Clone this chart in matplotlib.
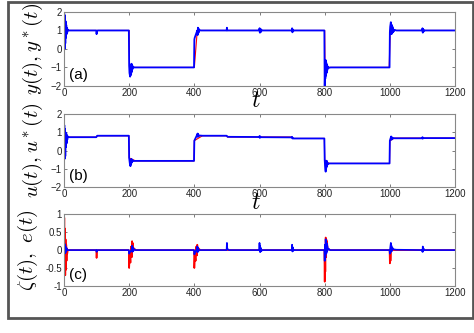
import numpy as np
import matplotlib
matplotlib.use('Agg')
import matplotlib.pyplot as plt
from matplotlib.patches import Rectangle

plt.rcParams['mathtext.fontset'] = 'cm'
plt.rcParams['font.family'] = ['Liberation Sans', 'DejaVu Sans']

# (a) output y(t) (blue) and reference y*(t) (red)
ya_t = [0, 1, 2, 3, 4, 5, 6, 7, 8, 9, 10, 12, 15, 99, 100, 101, 103,
        199, 200, 201, 203, 205, 206, 207, 208, 209, 210, 212, 215, 220,
        399, 400, 401, 405, 409, 410, 411, 412, 413, 414, 416, 420,
        499, 500, 501, 503, 599, 600, 601, 602, 603, 604, 605, 607, 610,
        699, 700, 701, 702, 703, 705, 708,
        799, 800, 801, 802, 803, 804, 805, 806, 807, 808, 810, 813, 818,
        999, 1000, 1001, 1003, 1005, 1006, 1007, 1008, 1009, 1010, 1012, 1015, 1020,
        1099, 1100, 1101, 1102, 1103, 1105, 1108, 1200]
ya_v = [0, 1.9, 0.0, 1.8, 0.3, 1.5, 0.6, 1.3, 0.8, 1.15, 0.9, 1.05, 1.0, 1.0, 0.8, 0.95, 1.0,
        1.0, -0.9, -1.3, -1.5, -1.2, -1.4, -0.8, -1.25, -0.85, -1.1, -0.95, -1.0, -1.0,
        -1.0, 0.5, 0.6, 0.8, 1.0, 0.75, 1.15, 0.85, 1.1, 0.92, 1.02, 1.0,
        1.0, 1.15, 1.0, 1.0, 1.0, 1.12, 0.88, 1.1, 0.9, 1.07, 0.95, 1.02, 1.0,
        1.0, 1.12, 0.9, 1.06, 0.96, 1.0, 1.0,
        1.0, -2.1, -1.3, -1.6, -0.6, -1.45, -0.75, -1.3, -0.85, -1.15, -0.95, -1.02, -1.0,
        -1.0, 0.9, 1.2, 1.45, 0.8, 1.3, 0.85, 1.2, 0.9, 1.1, 0.95, 1.03, 1.0,
        1.0, 1.12, 0.88, 1.08, 0.93, 1.02, 1.0, 1.0]
ra_t = [0, 200, 201, 400, 409, 800, 801, 998, 1001, 1200]
ra_v = [1, 1, -1, -1, 1, 1, -1, -1, 1, 1]

# (b) control u(t) (blue) and u*(t) (red)
ub_t = [0, 1, 2, 3, 4, 5, 6, 7, 8, 9, 10, 12, 15, 99, 102,
        199, 200, 202, 204, 205, 206, 207, 208, 210, 213, 220,
        399, 400, 404, 408, 410, 411, 412, 414, 418, 425,
        499, 502, 599, 600, 601, 602, 604, 699, 700, 701, 702, 704,
        799, 800, 801, 803, 804, 805, 806, 807, 808, 810, 813,
        999, 1000, 1002, 1004, 1005, 1006, 1007, 1009, 1015,
        1099, 1100, 1101, 1102, 1105, 1200]
ub_v = [0.0, 1.4, -0.45, 1.2, -0.3, 1.0, 0.2, 0.95, 0.4, 0.85, 0.6, 0.78, 0.74, 0.74, 0.82,
        0.82, -0.4, -0.7, -0.85, -0.5, -0.75, -0.45, -0.65, -0.5, -0.57, -0.56,
        -0.56, 0.55, 0.7, 0.85, 0.94, 0.75, 0.9, 0.8, 0.83, 0.82,
        0.82, 0.76, 0.75, 0.8, 0.7, 0.78, 0.74, 0.73, 0.76, 0.67, 0.7, 0.67,
        0.67, -0.5, -0.8, -1.15, -0.6, -0.95, -0.55, -0.85, -0.65, -0.75, -0.7,
        -0.7, 0.55, 0.67, 0.78, 0.6, 0.74, 0.63, 0.7, 0.68,
        0.68, 0.74, 0.66, 0.71, 0.69, 0.69]
rb_t = [0, 99, 102, 199, 200, 220, 399, 400, 425, 499, 502, 699, 702, 799, 800, 813, 999, 1000, 1015, 1200]
rb_v = [0.74, 0.74, 0.82, 0.82, -0.4, -0.56, -0.56, 0.55, 0.82, 0.82, 0.75, 0.75, 0.67, 0.67, -0.5, -0.7, -0.7, 0.55, 0.69, 0.69]

# (c) zeta(t) (red) and e(t) (blue)
zc_t = [0, 1, 2, 3, 4, 5, 6, 7, 8, 9, 10, 12, 99, 100, 101, 103,
        199, 200, 202, 204, 206, 208, 209, 210, 211, 213, 215, 220,
        399, 400, 402, 404, 406, 408, 409, 411, 413, 418,
        799, 800, 801, 802, 803, 804, 805, 806, 807, 809, 812, 818,
        999, 1000, 1001, 1002, 1004, 1200]
zc_v = [0, 0.9, -0.3, 0.6, -0.7, 0.3, -0.55, 0.15, -0.3, 0.05, -0.1, 0, 0, -0.22, -0.05, 0,
        0, -0.5, -0.1, -0.35, 0.1, -0.2, 0.25, -0.05, 0.2, 0.0, 0.05, 0,
        0, -0.5, -0.1, -0.3, 0.1, -0.15, 0.15, 0.0, 0.05, 0,
        0, -0.88, 0.1, -0.6, 0.35, -0.2, 0.3, -0.05, 0.25, 0.05, 0.02, 0,
        0, -0.37, -0.1, -0.3, 0, 0]
ec_t = [0, 1, 2, 3, 4, 5, 6, 8, 10, 99, 100, 102,
        199, 200, 203, 207, 209, 210, 211, 213, 216, 220,
        399, 400, 403, 407, 409, 410, 411, 413, 416,
        499, 500, 501, 503, 506, 599, 600, 601, 602, 603, 604, 606, 609,
        699, 700, 701, 702, 703, 705, 708,
        799, 800, 801, 802, 803, 805, 806, 807, 808, 810, 812, 816,
        999, 1000, 1001, 1003, 1004, 1005, 1006, 1008, 1012, 1020,
        1099, 1100, 1101, 1102, 1103, 1105, 1200]
ec_v = [0, 0.2, -0.1, 0.15, -0.08, 0.1, -0.05, 0.05, 0, 0, -0.05, 0,
        0, -0.1, -0.05, 0.0, 0.12, -0.05, 0.08, -0.02, 0.02, 0,
        0, -0.12, -0.05, 0.02, 0.1, -0.06, 0.07, -0.02, 0,
        0, 0.2, 0.05, 0.02, 0, 0, 0.2, -0.05, 0.12, -0.05, 0.06, -0.02, 0,
        0, 0.15, -0.04, 0.08, -0.02, 0.01, 0,
        0, -0.3, 0.15, -0.2, 0.3, -0.1, 0.2, -0.05, 0.12, 0.0, 0.04, 0,
        0, -0.1, 0.05, 0.2, -0.05, 0.12, -0.03, 0.06, 0.02, 0.01,
        0, -0.05, 0.1, -0.04, 0.05, 0, 0]

xticks = [0, 200, 400, 600, 800, 1000, 1200]

fig = plt.figure(figsize=(4.74, 3.33), dpi=100)
fig.patches.append(Rectangle((8/474, 15/333), 465/474, 316/333, transform=fig.transFigure,
                             fill=False, edgecolor='#555555', lw=2))

boxes = [[0.135, 0.742, 0.825, 0.222],
         [0.135, 0.438, 0.825, 0.219],
         [0.135, 0.141, 0.825, 0.216]]
axs = [fig.add_axes(b) for b in boxes]

axs[0].plot(ra_t, ra_v, color='red', lw=0.8)
axs[0].plot(ya_t, ya_v, color='blue', lw=1.3)
axs[1].plot(rb_t, rb_v, color='red', lw=0.8)
axs[1].plot(ub_t, ub_v, color='blue', lw=1.3)
axs[2].plot(zc_t, zc_v, color='red', lw=1.2)
axs[2].plot(ec_t, ec_v, color='blue', lw=1.2)

ylabels = [r'$y(t),y^*(t)$', r'$u(t),u^*(t)$', r'$\zeta(t),\ e(t)$']
tags = ['(a)', '(b)', '(c)']
for i, ax in enumerate(axs):
    ax.set_xlim(0, 1200)
    ax.set_xticks(xticks)
    if i < 2:
        ax.set_ylim(-2, 2)
        ax.set_yticks([-2, -1, 0, 1, 2])
    else:
        ax.set_ylim(-1, 1)
        ax.set_yticks([-1, -0.5, 0, 0.5, 1])
        ax.set_yticklabels(['-1', '-0.5', '0', '0.5', '1'])
    ax.tick_params(direction='in', top=True, right=True, length=2.5, width=0.6,
                   labelsize=7, pad=1.5, color='#666666', labelcolor='#222222')
    for s in ax.spines.values():
        s.set_color('#888888')
        s.set_linewidth(0.8)
    ax.set_ylabel(ylabels[i], fontsize=15, labelpad=4)
    ax.text(0.012, 0.05, tags[i], transform=ax.transAxes, fontsize=11, va='bottom')
    if i < 2:
        ax.set_xlabel(r'$t$', fontsize=17, labelpad=-7)
        ax.xaxis.set_label_coords(0.49, -0.06, transform=ax.transAxes)
        ax.xaxis.label.set_va('top')

plt.savefig('out.png', dpi=100)
